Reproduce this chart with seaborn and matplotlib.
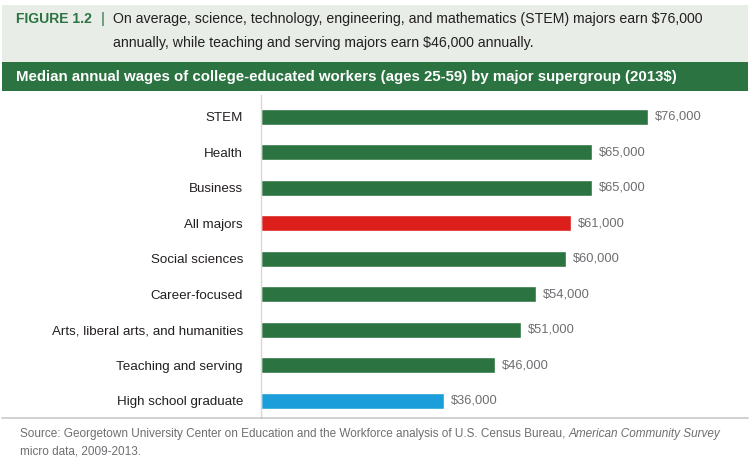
import matplotlib
matplotlib.use("Agg")
import matplotlib.pyplot as plt
from matplotlib import font_manager
from matplotlib.patches import Rectangle
from matplotlib.lines import Line2D
import seaborn as sns
import pandas as pd

# values
categories = ["STEM", "Health", "Business", "All majors", "Social sciences",
              "Career-focused", "Arts, liberal arts, and humanities",
              "Teaching and serving", "High school graduate"]
wages = [76000, 65000, 65000, 61000, 60000, 54000, 51000, 46000, 36000]
value_labels = ["$76,000", "$65,000", "$65,000", "$61,000", "$60,000",
                "$54,000", "$51,000", "$46,000", "$36,000"]
bar_colors = ["#2c7342", "#2c7342", "#2c7342", "#dc1f1a", "#2c7342",
              "#2c7342", "#2c7342", "#2c7342", "#1b9ed9"]

GREEN = "#2c7342"
DARK = "#231f20"
GREY = "#6d6e71"

sns.set_style("white")
names = {f.name for f in font_manager.fontManager.ttflist}
main_font = "Liberation Sans Narrow" if "Liberation Sans Narrow" in names else "Liberation Sans"
plt.rcParams["font.family"] = [main_font, "DejaVu Sans"]

df = pd.DataFrame({"major": categories, "wage": wages})
W, H = 754, 469
fig = plt.figure(figsize=(W / 100, H / 100), dpi=100)

def fx(px):
    return px / W

def fy(py):
    return 1 - py / H

# header bands
fig.add_artist(Rectangle((fx(2), fy(62)), fx(746), 57 / H, transform=fig.transFigure,
                         facecolor="#e8ede8", edgecolor="none"))
fig.add_artist(Rectangle((fx(2), fy(91)), fx(746), 29 / H, transform=fig.transFigure,
                         facecolor=GREEN, edgecolor="none"))
fig.text(fx(16), fy(19), "FIGURE 1.2", color=GREEN, fontsize=10, fontweight="bold", va="center")
fig.text(fx(101), fy(19), "|", color=GREEN, fontsize=11, va="center")
fig.text(fx(113), fy(19), "On average, science, technology, engineering, and mathematics (STEM) majors earn $76,000",
         color=DARK, fontsize=10.2, va="center")
fig.text(fx(113), fy(43), "annually, while teaching and serving majors earn $46,000 annually.",
         color=DARK, fontsize=10.2, va="center")
fig.text(fx(16), fy(77), "Median annual wages of college-educated workers (ages 25-59) by major supergroup (2013$)",
         color="white", fontsize=10.8, fontweight="bold", va="center")

# bottom rule
fig.add_artist(Line2D([fx(2), fx(748)], [fy(418), fy(418)], transform=fig.transFigure,
                      color="#c8c8c8", linewidth=1.2))

ax = fig.add_axes([fx(261), fy(418), fx(748) - fx(261), (418 - 95) / H])
sns.barplot(data=df, y="major", x="wage", hue="major", palette=bar_colors,
            legend=False, orient="h", width=0.45, saturation=1, ax=ax)
ax.set_xlim(0, 95700)
ax.set_ylim(8.49, -0.62)
ax.set_xlabel("")
ax.set_ylabel("")
ax.set_xticks([])
ax.tick_params(axis="y", length=0, pad=13, labelsize=9.6, labelcolor=DARK)
for s in ["top", "right", "bottom"]:
    ax.spines[s].set_visible(False)
ax.spines["left"].set_color("#d8d8d8")
ax.spines["left"].set_linewidth(1)

for i, (v, lab) in enumerate(zip(wages, value_labels)):
    ax.annotate(lab, (v, i), xytext=(5, 0), textcoords="offset points",
                va="center", ha="left", fontsize=9.3, color=GREY)

fig.text(fx(20), fy(434), "Source: Georgetown University Center on Education and the Workforce analysis of U.S. Census Bureau, ",
         color=GREY, fontsize=8.5, va="center")
src = fig.texts[-1]
fig.canvas.draw()
bb = src.get_window_extent()
fig.text(bb.x1 / W, fy(434), "American Community Survey", color=GREY, fontsize=8.5,
         va="center", style="italic")
fig.text(fx(20), fy(451), "micro data, 2009-2013.", color=GREY, fontsize=8.5, va="center")

fig.savefig("out.png", dpi=100)
